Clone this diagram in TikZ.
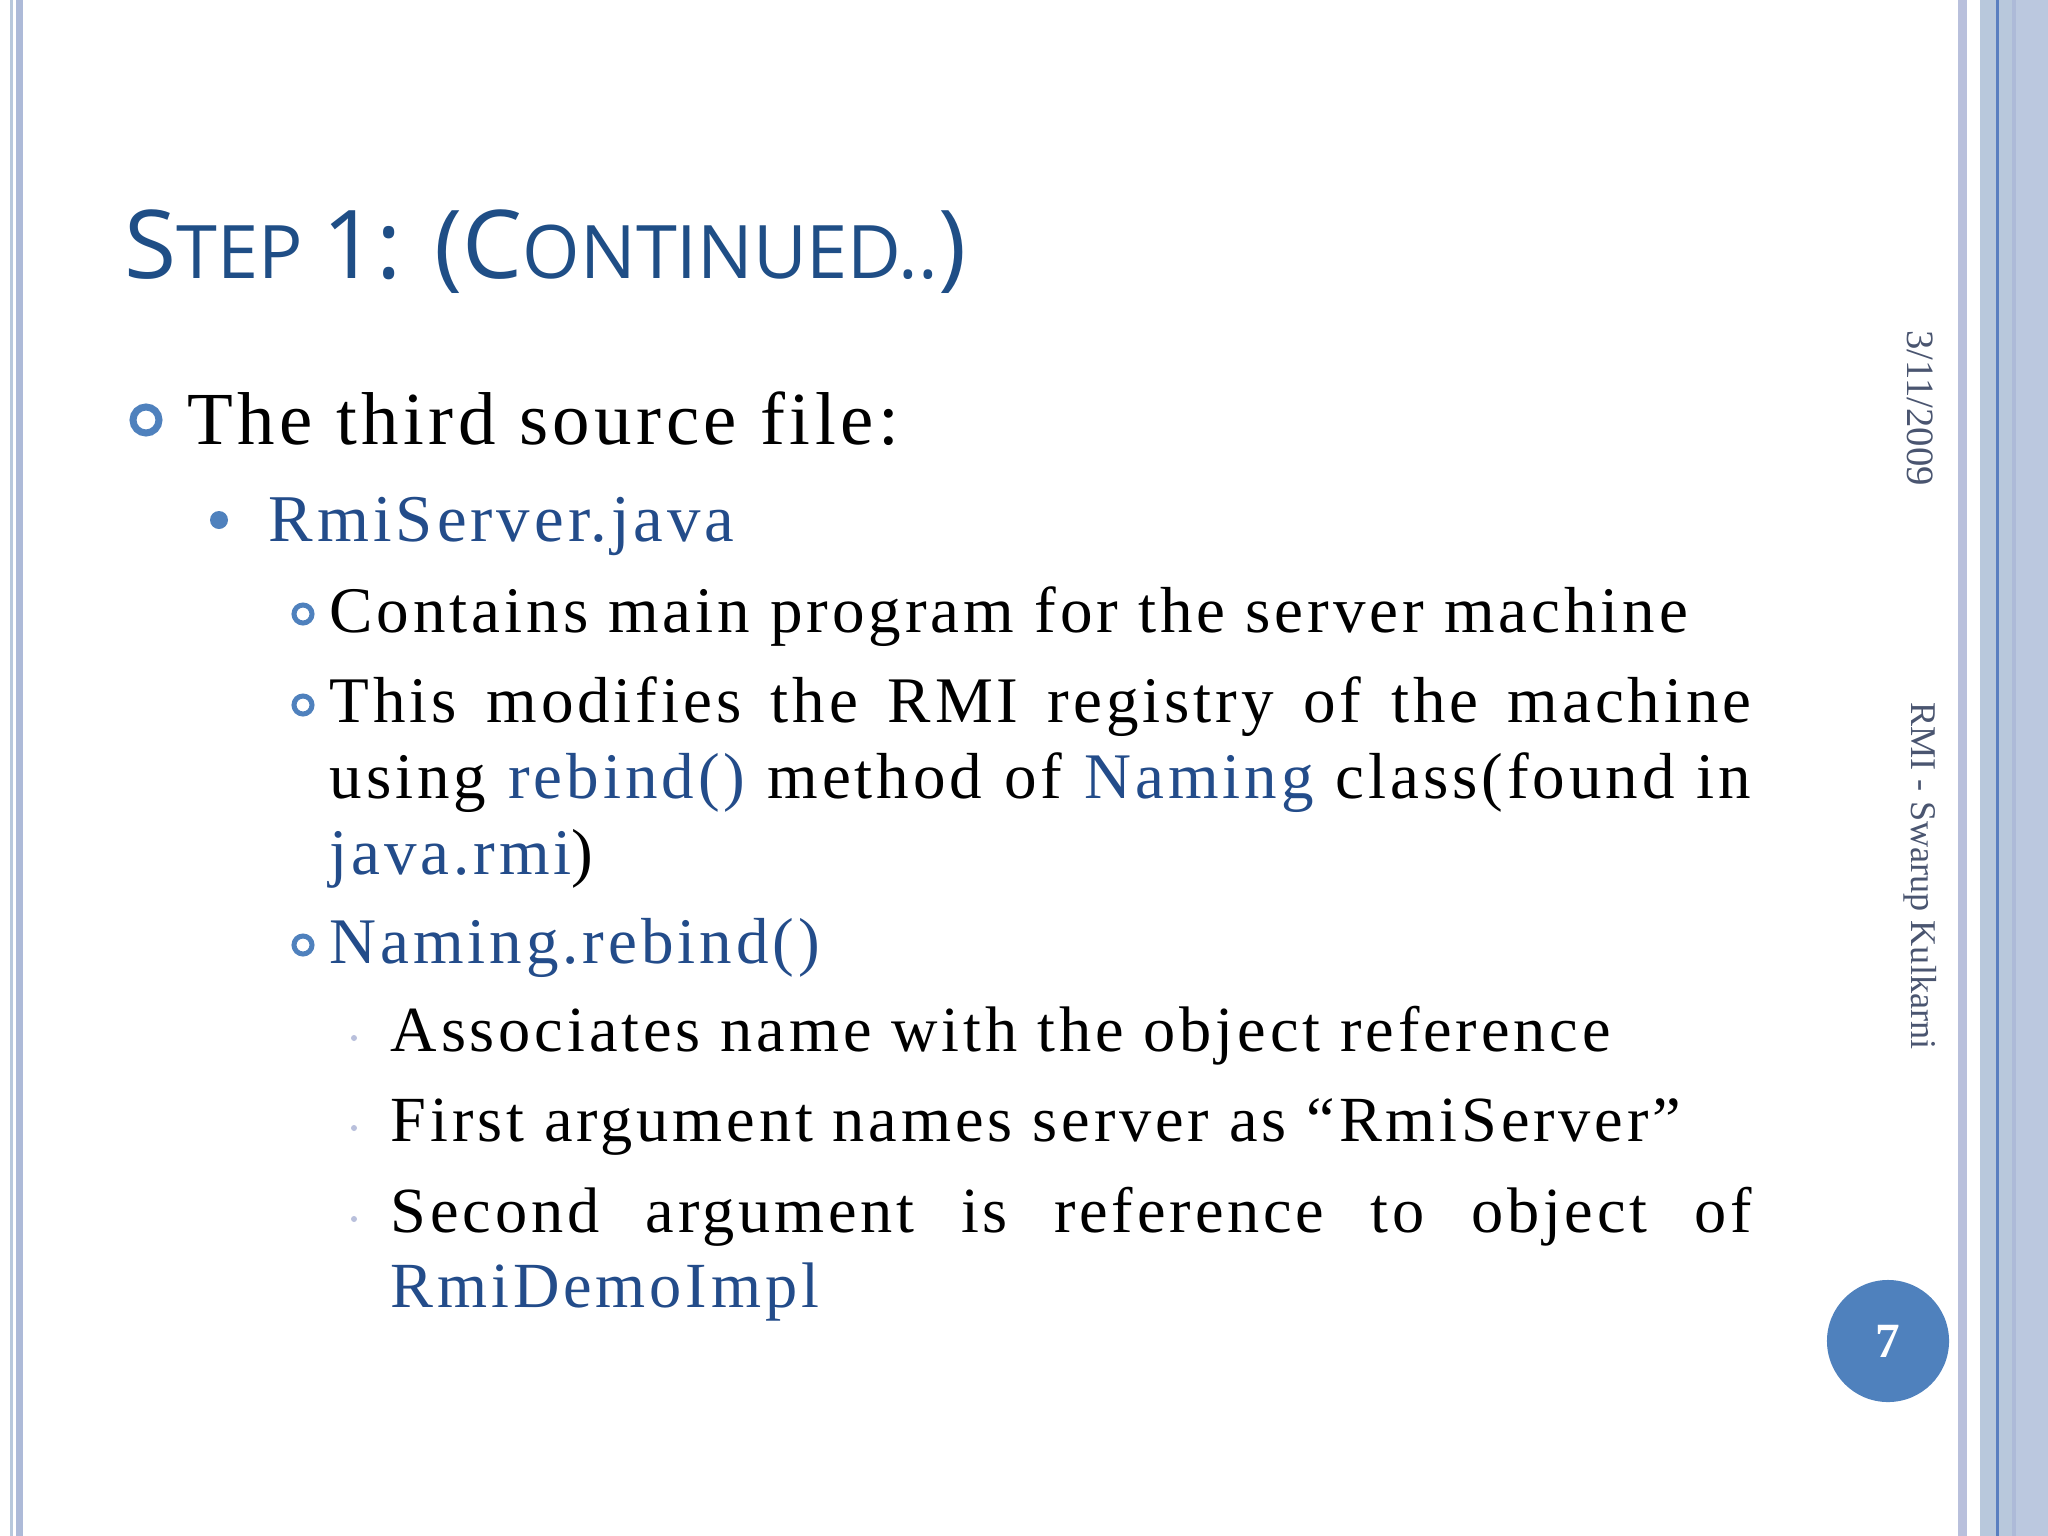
\documentclass[tikz,border=0pt]{standalone}
\usepackage{fontspec}
\setmainfont{Liberation Serif}
\newfontfamily\titlefont{Open Sans}
\newfontfamily\bodyfont[LetterSpace=6]{Liberation Serif}
\newfontfamily\sidefont{Liberation Serif}
\definecolor{ttl}{HTML}{1F4E86}
\definecolor{hl}{HTML}{234C8A}
\definecolor{bul}{HTML}{4F81BD}
\definecolor{barA}{HTML}{B9C0DC}
\definecolor{barB}{HTML}{B8C8DC}
\definecolor{barC}{HTML}{5A7FC0}
\definecolor{barD}{HTML}{ADBAD8}
\definecolor{barE}{HTML}{BBC8DF}
\definecolor{side}{HTML}{4A5570}
\tikzset{
 txt/.style={anchor=base west,inner sep=0pt,font=\bodyfont},
 ring/.style={draw=bul,line width=0.07cm,circle,inner sep=0pt,minimum size=0.26cm},
 ringS/.style={draw=bul,line width=0.05cm,circle,inner sep=0pt,minimum size=0.18cm},
}
\newcommand{\hb}[1]{\textcolor{hl}{#1}}
\begin{document}
\begin{tikzpicture}[x=0.01cm,y=-0.01cm]
\useasboundingbox (0,0) rectangle (2048,1536);
\fill[white] (0,0) rectangle (2048,1536);
% left bars
\fill[barB] (10,0) rectangle (13,1536);
\fill[barD] (16,0) rectangle (23,1536);
% right bars
\fill[barA] (1958,0) rectangle (1967,1536);
\fill[barB] (1980,0) rectangle (2048,1536);
\fill[barC] (1996,0) rectangle (1998.5,1536);
\fill[barD] (2012,0) rectangle (2016,1536);
\fill[barE] (2016,0) rectangle (2048,1536);
% title
\node[anchor=base west,inner sep=0pt,text=ttl,font=\titlefont] (title) at (124,278)
 {\fontsize{27}{32}\selectfont S\fontsize{21}{25}\selectfont TEP \fontsize{27}{32}\selectfont 1: (C\fontsize{21}{25}\selectfont ONTINUED..\fontsize{27}{32}\selectfont)};
% level 1
\node[ring] (b1) at (146,420) {};
\node[txt,font=\bodyfont\fontsize{21.3}{26}\selectfont] (t1) at (187,444) {The third source file:};
% level 2
\fill[bul] (219,520) circle (9) coordinate (b2);
\node[txt,text=hl,font=\bodyfont\fontsize{19}{24}\selectfont] (t2) at (268,541) {RmiServer.java};
% level 3
\node[ringS] (b3a) at (303,614) {};
\node[txt,font=\bodyfont\fontsize{18.5}{22}\selectfont] (t3a) at (329,632) {Contains main program for the server machine};
\node[ringS] (b3b) at (303,705) {};
\node[txt,font=\bodyfont\fontsize{18.5}{22}\selectfont] (t3b) at (329,722) {\makebox[14.21cm][s]{This modifies the RMI registry of the machine}};
\node[txt,font=\bodyfont\fontsize{18.5}{22}\selectfont] (t3c) at (329,798) {\makebox[14.21cm][s]{using \hb{rebind()} method of \hb{Naming} class(found in}};
\node[txt,font=\bodyfont\fontsize{18.5}{22}\selectfont] (t3d) at (329,874) {\hb{java.rmi})};
\node[ringS] (b3e) at (303,945) {};
\node[txt,text=hl,font=\bodyfont\fontsize{18.5}{22}\selectfont] (t3e) at (329,963) {Naming.rebind()};
% level 4
\fill[barA] (354,1038) circle (3) coordinate (d1);
\node[txt,font=\bodyfont\fontsize{18.3}{22}\selectfont] (t4a) at (390,1051) {Associates name with the object reference};
\fill[barA] (354,1128) circle (3) coordinate (d2);
\node[txt,font=\bodyfont\fontsize{18.3}{22}\selectfont] (t4b) at (390,1141) {First argument names server as “RmiServer”};
\fill[barA] (354,1219) circle (3) coordinate (d3);
\node[txt,font=\bodyfont\fontsize{18.3}{22}\selectfont] (t4c) at (390,1232) {\makebox[13.60cm][s]{Second argument is reference to object of}};
\node[txt,text=hl,font=\bodyfont\fontsize{18.3}{22}\selectfont] (t4d) at (390,1307) {RmiDemoImpl};
% side texts
\node[rotate=-90,text=side,font=\sidefont\fontsize{11}{13}\selectfont,inner sep=0pt] (date) at (1920,408) {3/11/2009};
\node[rotate=-90,text=side,font=\sidefont\fontsize{10.3}{13}\selectfont,inner sep=0pt] (auth) at (1920,876) {RMI - Swarup Kulkarni};
% page number
\node[circle,fill=bul,minimum size=1.22cm,inner sep=0pt,text=white,font=\sidefont\bfseries\fontsize{14}{16}\selectfont] (pg) at (1888,1341) {7};
\end{tikzpicture}
\end{document}
